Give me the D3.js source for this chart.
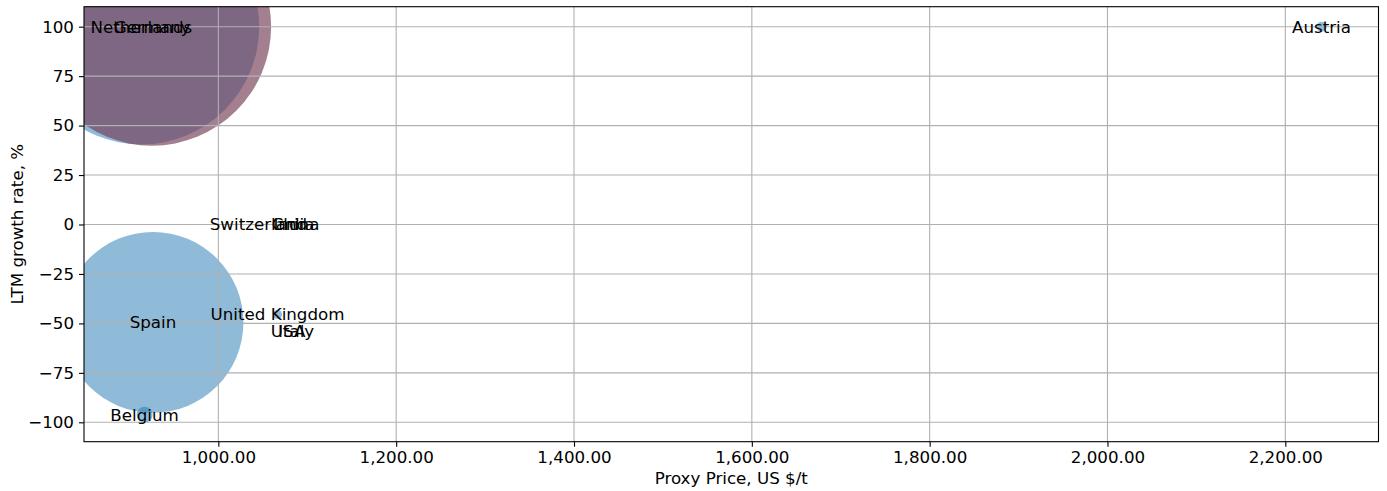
<!DOCTYPE html>
<html>
<head>
<meta charset="utf-8">
<script src="https://cdn.jsdelivr.net/npm/d3@7"></script>
<style>
  html, body { margin: 0; padding: 0; background: #ffffff; }
  svg { display: block; }
  text { font-family: "DejaVu Sans", sans-serif; }
</style>
</head>
<body>
<svg id="chart" width="1387" height="491"></svg>
<script>
// ---- data ----
const countries = ["Netherlands", "Germany", "Spain", "Belgium", "Austria", "United Kingdom", "USA", "Italy", "Switzerland", "India", "China"];
const proxyPrice = [913.5, 925.5, 926.5, 917.0, 2240.7, 1066.6, 1078.4, 1087.4, 1045.1, 1085.0, 1086.8];
const growthRate = [100, 100, -49.5, -96.2, 100, -45.5, -54.0, -54.0, 0, 0, 0];
const bubbleSize = [13900, 14200, 8200, 64, 25, 20, 1, 1, 1, 1, 1];
const bubbleGroup = ["blue", "purple", "blue", "blue", "blue", "blue", "blue", "blue", "blue", "blue", "blue"];
const xTicks = [1000, 1200, 1400, 1600, 1800, 2000, 2200];
const yTicks = [-100, -75, -50, -25, 0, 25, 50, 75, 100];
const xDomain = [848.9, 2304.8];
const yDomain = [-109.8, 110.1];

const data = countries.map((c, i) => ({
  name: c, x: proxyPrice[i], y: growthRate[i], s: bubbleSize[i], g: bubbleGroup[i]
}));

// ---- layout ----
const W = 1387, H = 491;
const FS = 16.7;
const m = { left: 84, right: W - 1378.5, top: 6.7, bottom: H - 441.7 };
const iw = W - m.left - m.right, ih = H - m.top - m.bottom;

const svg = d3.select("#chart");
const x = d3.scaleLinear().domain(xDomain).range([0, iw]);
const y = d3.scaleLinear().domain(yDomain).range([ih, 0]);
const r = d3.scaleSqrt().domain([0, 14200]).range([0, 119]);
const fills = { blue: "rgba(31,119,180,0.5)", purple: "rgba(115,58,83,0.65)" };

const g = svg.append("g").attr("transform", `translate(${m.left},${m.top})`);

svg.append("defs").append("clipPath").attr("id", "plotclip")
  .append("rect").attr("width", iw).attr("height", ih);

// bubbles
g.append("g").attr("clip-path", "url(#plotclip)")
  .selectAll("circle").data(data).join("circle")
  .attr("cx", d => x(d.x)).attr("cy", d => y(d.y))
  .attr("r", d => r(d.s))
  .attr("fill", d => fills[d.g]);

// grid (above bubbles, as in the reference)
const grid = g.append("g");
grid.selectAll("line.gx").data(xTicks).join("line")
  .attr("x1", d => x(d)).attr("x2", d => x(d)).attr("y1", 0).attr("y2", ih)
  .attr("stroke", "#b0b0b0").attr("stroke-width", 1.1);
grid.selectAll("line.gy").data(yTicks).join("line")
  .attr("y1", d => y(d)).attr("y2", d => y(d)).attr("x1", 0).attr("x2", iw)
  .attr("stroke", "#b0b0b0").attr("stroke-width", 1.1);

// axes
const fmtX = d3.format(",.2f");
const fmtY = d => (d < 0 ? "\u2212" + Math.abs(d) : String(d));
const xAxis = g.append("g").attr("transform", `translate(0,${ih})`)
  .call(d3.axisBottom(x).tickValues(xTicks).tickFormat(fmtX).tickSizeInner(5).tickSizeOuter(0).tickPadding(4));
const yAxis = g.append("g")
  .call(d3.axisLeft(y).tickValues(yTicks).tickFormat(fmtY).tickSizeInner(5).tickSizeOuter(0).tickPadding(5));
[xAxis, yAxis].forEach(a => {
  a.select(".domain").remove();
  a.selectAll(".tick line").attr("stroke", "#000").attr("stroke-width", 1.1);
  a.selectAll(".tick text").attr("fill", "#000").attr("font-size", FS).attr("font-family", "DejaVu Sans");
});

// spines
g.append("rect").attr("width", iw).attr("height", ih)
  .attr("fill", "none").attr("stroke", "#000").attr("stroke-width", 1.1);

// labels
g.append("g").selectAll("text").data(data).join("text")
  .attr("x", d => x(d.x)).attr("y", d => y(d.y))
  .attr("text-anchor", "middle").attr("dominant-baseline", "central")
  .attr("font-size", FS).attr("fill", "#000")
  .text(d => d.name);

// axis titles
svg.append("text").attr("x", m.left + iw / 2).attr("y", 484)
  .attr("text-anchor", "middle").attr("font-size", FS).attr("fill", "#000")
  .text("Proxy Price, US $/t");
svg.append("text")
  .attr("transform", `translate(23,${m.top + ih / 2}) rotate(-90)`)
  .attr("text-anchor", "middle").attr("font-size", FS).attr("fill", "#000")
  .text("LTM growth rate, %");
</script>
</body>
</html>
